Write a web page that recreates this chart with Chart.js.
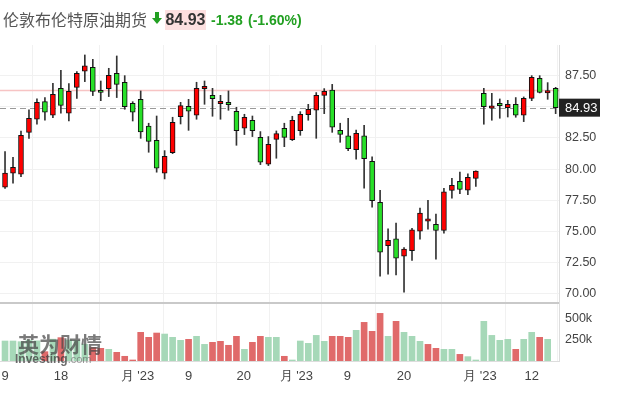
<!DOCTYPE html>
<html><head><meta charset="utf-8">
<script src="https://cdn.jsdelivr.net/npm/chart.js@4.4.0/dist/chart.umd.min.js"></script>
<style>
html,body{margin:0;padding:0;background:#fff;width:621px;height:399px;overflow:hidden;font-family:"Liberation Sans",Arial,sans-serif;}
#pc{position:absolute;left:0;top:0;}
#vc{position:absolute;left:0;top:304px;}
.abs{position:absolute;white-space:nowrap;}
#title{left:3px;top:8px;line-height:22px;font-family:"Noto Sans CJK SC","Noto Sans",sans-serif;font-size:16px;color:#555;}
#arrow{left:152px;top:12px;}
#last{left:165px;top:10px;width:41px;height:20px;line-height:20px;text-align:center;background:#fde0e0;font-weight:bold;font-size:16px;color:#333;}
#chg{left:211px;top:10px;line-height:20px;font-weight:bold;font-size:14px;color:#22a022;}
#pct{left:248px;top:10px;line-height:20px;font-weight:bold;font-size:14px;color:#22a022;}
#wm1{left:18px;top:330px;font-family:"Noto Sans CJK SC",sans-serif;font-weight:bold;font-size:21px;line-height:26px;color:rgba(70,70,70,0.72);letter-spacing:0px;}
#wm2{left:15px;top:353px;font-size:12px;line-height:12px;font-weight:bold;color:rgba(60,60,60,0.75);}
#wm2 span{font-weight:normal;font-size:11px;color:rgba(110,110,110,0.7);}
</style></head>
<body>
<canvas id="pc" width="621" height="304"></canvas>
<canvas id="vc" width="621" height="95"></canvas>
<div class="abs" id="title">伦敦布伦特原油期货</div>
<svg class="abs" id="arrow" width="10" height="13" viewBox="0 0 10 13"><rect x="3" y="0" width="4" height="7" fill="#22a022"/><polygon points="0,6 10,6 5,12" fill="#22a022"/></svg>
<div class="abs" id="last">84.93</div>
<div class="abs" id="chg">-1.38</div>
<div class="abs" id="pct">(-1.60%)</div>
<div class="abs" id="wm1">英为财情</div>
<div class="abs" id="wm2">Investing<span>.com</span></div>
<script>
// ---- data ----
const opens  = [78.54,79.67,79.59,82.95,84.00,85.41,84.32,86.48,84.48,86.56,87.85,88.17,86.32,86.46,87.69,86.97,85.28,85.60,83.46,82.31,79.67,81.32,84.21,85.04,84.32,86.46,85.92,85.25,85.36,84.64,83.28,83.92,82.55,80.39,82.39,83.28,82.37,83.09,84.37,84.72,85.92,86.35,83.11,82.66,81.56,82.66,80.63,77.34,73.86,74.40,73.01,73.46,75.01,75.82,75.57,75.07,78.28,79.02,78.30,79.26,86.08,84.88,85.28,84.93,85.20,84.32,85.68,87.29,86.12,86.48];
const highs  = [81.40,80.95,83.06,84.75,85.63,85.74,86.89,87.93,86.86,87.82,89.16,88.81,87.07,88.09,89.08,87.50,85.41,86.27,83.68,84.26,81.48,84.16,85.36,85.60,86.97,87.07,86.48,85.92,86.27,84.96,84.40,84.26,83.01,82.61,83.06,83.68,84.24,84.61,85.20,86.14,86.46,86.80,83.68,84.08,83.14,83.52,80.98,78.30,75.20,75.66,73.70,75.25,76.86,77.50,76.38,78.46,79.26,79.75,79.61,79.85,86.48,86.08,85.63,85.52,85.74,85.79,87.50,87.50,86.94,86.56];
const lows   = [78.45,78.86,79.40,82.47,83.60,83.92,84.13,84.48,83.86,85.68,87.02,85.90,85.49,85.82,85.74,84.80,83.86,82.47,81.35,79.75,79.21,81.24,83.62,83.11,84.00,85.20,84.24,84.00,84.72,81.91,82.77,82.61,80.36,80.28,80.87,81.80,82.29,82.71,83.92,82.47,84.45,82.95,82.15,81.48,80.79,78.46,76.94,71.40,71.56,71.51,70.12,72.66,74.37,75.17,72.77,74.85,77.66,78.03,77.95,78.60,83.60,83.92,84.08,84.18,84.16,83.81,85.49,86.11,85.60,84.45];
const closes = [79.67,80.15,82.71,84.08,85.36,84.56,86.00,85.12,86.24,87.69,88.28,86.24,86.16,87.53,86.80,85.01,84.56,82.98,82.23,80.07,81.03,83.76,85.09,84.64,86.48,86.64,85.66,85.44,85.17,83.09,84.16,83.09,80.55,81.99,82.85,82.55,83.92,84.40,84.80,85.92,86.24,83.36,82.79,81.64,82.87,80.84,77.47,73.33,74.29,72.85,73.57,75.12,76.46,76.00,75.07,78.17,78.70,78.36,79.34,79.83,85.01,85.07,85.09,85.20,84.32,85.68,87.37,86.16,86.31,84.93];
const volumes = [238000,238000,230000,250000,240000,111000,260000,278000,250000,245000,200000,159000,151000,139000,103000,56000,12000,341000,282000,333000,321000,282000,246000,258000,294000,198000,222000,234000,187000,294000,139000,222000,294000,282000,282000,56000,12000,238000,210000,305000,234000,294000,294000,282000,365000,460000,353000,567000,294000,472000,341000,294000,234000,198000,151000,139000,139000,79000,52000,12000,472000,305000,246000,258000,139000,258000,341000,282000,258000,null];
const xTickPos  = [0, 7, 16.6, 23, 29.9, 36.5, 42.9, 50, 59.5, 66];
const xTickText = ['9','18',"月 '23",'9','20',"月 '23",'9','20',"月 '23",'12'];
const priceTicks = [70, 72.5, 75, 77.5, 80, 82.5, 85, 87.5];
const volTicks = [250000, 500000];
const lastPrice = 84.93;
const prevClose = 86.31;

const idx = closes.map((_, i) => i);
const XMIN = -0.63, XMAX = 69.42;
const FONT = 'Liberation Sans';

function noPad(s) { s.paddingLeft = 0; s.paddingRight = 0; s.paddingTop = 0; s.paddingBottom = 0; }

const refLines = {
  id: 'refLines',
  beforeDatasetsDraw(chart) {
    const {ctx, chartArea: a, scales: {y}} = chart;
    ctx.save();
    let py = y.getPixelForValue(prevClose);
    ctx.strokeStyle = '#f7c4c4'; ctx.lineWidth = 1.5;
    ctx.beginPath(); ctx.moveTo(a.left, py); ctx.lineTo(a.right, py); ctx.stroke();
    let ly = Math.round(y.getPixelForValue(lastPrice)) + 0.5;
    ctx.strokeStyle = '#9a9a9a'; ctx.lineWidth = 1; ctx.setLineDash([6, 4]);
    ctx.beginPath(); ctx.moveTo(a.left, ly); ctx.lineTo(a.right, ly); ctx.stroke();
    ctx.restore();
  },
  afterDraw(chart) {
    const {ctx, chartArea: a, scales: {y}} = chart;
    const ly = y.getPixelForValue(lastPrice);
    ctx.save();
    ctx.fillStyle = '#222';
    ctx.fillRect(a.right, ly - 9, 41, 18);
    ctx.fillStyle = '#fff';
    ctx.font = '13px "' + FONT + '"';
    ctx.textBaseline = 'middle'; ctx.textAlign = 'left';
    ctx.fillText(lastPrice.toFixed(2), a.right + 6, ly + 0.5);
    ctx.restore();
  }
};

new Chart(document.getElementById('pc'), {
  type: 'bar',
  data: { datasets: [
    { label: 'wick', data: idx.map(i => ({x: i, y: [lows[i], highs[i]]})),
      backgroundColor: '#333', barThickness: 1, grouped: false, order: 2 },
    { label: 'body', data: idx.map(i => ({x: i, y: [opens[i], closes[i]]})),
      backgroundColor: idx.map(i => closes[i] >= opens[i] ? '#ff0000' : '#28e028'),
      borderColor: '#111', borderWidth: 1, borderSkipped: false,
      barThickness: 5, minBarLength: 2, grouped: false, order: 1 }
  ]},
  options: {
    responsive: false, animation: false,
    layout: { padding: { top: 45, left: 0, right: 0, bottom: 1 } },
    plugins: { legend: { display: false }, tooltip: { enabled: false } },
    scales: {
      x: { type: 'linear', min: XMIN, max: XMAX, offset: false,
        grid: { color: '#f1f1f1', drawTicks: false },
        border: { display: true, color: '#c9c9c9', width: 2 },
        ticks: { display: false },
        afterBuildTicks: s => { s.ticks = xTickPos.map(v => ({value: v})); },
        afterFit: s => { s.height = 0; noPad(s); } },
      y: { position: 'right', min: 69.25, max: 89.96,
        grid: { color: '#f1f1f1', drawTicks: false },
        border: { color: '#dddddd' },
        ticks: { padding: 6, color: '#444', font: { size: 12.5, family: FONT }, callback: v => Number(v).toFixed(2) },
        afterBuildTicks: s => { s.ticks = priceTicks.map(v => ({value: v})); },
        afterFit: s => { s.width = 62; noPad(s); } }
    }
  },
  plugins: [refLines]
});

new Chart(document.getElementById('vc'), {
  type: 'bar',
  data: { datasets: [
    { label: 'vol', data: idx.map(i => ({x: i, y: volumes[i]})),
      backgroundColor: idx.map(i => (i === 0 || closes[i] >= closes[i-1]) ? '#a6d8b8' : '#e06a6a'),
      barThickness: 6, grouped: false }
  ]},
  options: {
    responsive: false, animation: false,
    layout: { padding: 0 },
    plugins: { legend: { display: false }, tooltip: { enabled: false } },
    scales: {
      x: { type: 'linear', min: XMIN, max: XMAX, offset: false,
        grid: { color: '#f1f1f1', drawTicks: false },
        border: { color: '#dddddd' },
        ticks: { padding: 8, color: '#444', autoSkip: false, maxRotation: 0,
          font: { size: 13, family: FONT },
          callback: (v, i) => xTickText[i] ?? '' },
        afterBuildTicks: s => { s.ticks = xTickPos.map(v => ({value: v})); },
        afterFit: s => { s.height = 38; noPad(s); } },
      y: { position: 'right', min: 0, max: 678571,
        grid: { display: false, drawTicks: false },
        border: { color: '#dddddd' },
        ticks: { padding: 6, color: '#444', font: { size: 12.5, family: FONT }, callback: v => (v / 1000) + 'k' },
        afterBuildTicks: s => { s.ticks = volTicks.map(v => ({value: v})); },
        afterFit: s => { s.width = 62; noPad(s); } }
    }
  }
});
</script>
</body></html>
